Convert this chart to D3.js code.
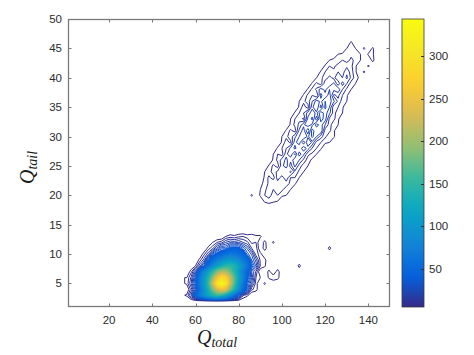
<!DOCTYPE html>
<html><head><meta charset="utf-8">
<script src="https://cdn.jsdelivr.net/npm/d3@7"></script>
<style>body{margin:0;background:#fff}svg{display:block}</style>
</head><body><svg id="c" width="474" height="355"></svg>
<script>
// ---------- data ----------
const xTicks = [20, 40, 60, 80, 100, 120, 140];
const yTicks = [5, 10, 15, 20, 25, 30, 35, 40, 45, 50];
const cbTicks = [50, 100, 150, 200, 250, 300];
const xDomain = [1, 150];
const yDomain = [1, 50];
const cDomain = [5, 344];
const levels = d3.range(5, 345, 4);

// density grids: rows of [y, xStart, values at xStart, xStart+dx, ...]
const lowerGrid = {x0: 56, dx: 2, nx: 45, y0: 2, dy: 1, ny: 13};
const lowerRows = [
  [3, 56, [6, 18, 45, 70, 95, 120, 140, 150, 140, 115, 85, 55, 33, 10, 6]],
  [4, 58, [11, 27, 60, 95, 135, 185, 230, 250, 235, 185, 135, 90, 55, 31, 10, 7]],
  [5, 56, [6, 17, 35, 70, 105, 150, 220, 300, 340, 305, 225, 160, 105, 65, 35, 20, 7, 0, 6]],
  [6, 56, [5, 14, 32, 65, 100, 140, 190, 250, 290, 275, 220, 165, 115, 75, 42, 25, 9, 5, 0, 6, 9, 7]],
  [7, 58, [8, 22, 53, 82, 115, 150, 185, 205, 205, 180, 145, 105, 72, 48, 21, 12, 0, 0, 7, 0, 8]],
  [8, 60, [5, 16, 29, 58, 85, 110, 130, 145, 150, 140, 118, 90, 62, 37, 24, 9, 6]],
  [8, 108, [7]],
  [9, 62, [7, 15, 38, 55, 72, 85, 98, 104, 100, 88, 70, 53, 29, 19, 8, 7]],
  [10, 64, [8, 16, 33, 42, 48, 60, 66, 64, 58, 49, 31, 24, 11, 7]],
  [11, 66, [7, 12, 22, 31, 30, 40, 42, 41, 32, 24, 13, 11, 0, 8]],
  [11, 122, [7]],
  [12, 68, [5, 9, 11, 17, 20, 19, 21, 17, 14, 8, 9, 0, 7, 0, 6]],
  [13, 74, [5, 7, 6, 8, 9, 7, 8, 6, 6]]
];
const upperGrid = {x0: 84, dx: 2, nx: 32, y0: 17, dy: 1, ny: 32};
const upperRows = [
  [19, 92, [6, 8, 6, 5]],
  [20, 86, [6, 0, 6, 9, 10, 8, 9, 6, 5]],
  [21, 90, [5, 8, 11, 9, 12, 10, 7, 5]],
  [22, 90, [4, 6, 10, 13, 11, 13, 11, 8, 6]],
  [23, 92, [6, 10, 7, 15, 11, 16, 9, 9, 5]],
  [24, 92, [5, 7, 11, 14, 17, 13, 18, 12, 8, 5]],
  [25, 94, [6, 10, 7, 16, 19, 11, 18, 11, 7, 5]],
  [26, 96, [6, 10, 15, 18, 14, 20, 17, 12, 7, 4]],
  [27, 96, [5, 9, 7, 16, 20, 12, 23, 18, 10, 8, 5]],
  [28, 98, [6, 9, 13, 18, 22, 18, 24, 19, 13, 9, 6]],
  [29, 100, [6, 11, 8, 20, 23, 14, 25, 20, 11, 9, 6, 5]],
  [30, 100, [5, 8, 11, 16, 21, 25, 20, 26, 21, 15, 10, 6, 6]],
  [31, 102, [6, 10, 7, 18, 23, 13, 27, 22, 25, 11, 10, 6]],
  [32, 104, [6, 10, 14, 20, 24, 20, 27, 23, 17, 11, 6, 5]],
  [33, 104, [5, 9, 12, 8, 22, 26, 14, 27, 23, 12, 10, 6]],
  [34, 106, [6, 9, 13, 19, 23, 20, 28, 23, 18, 11, 6, 5]],
  [35, 108, [6, 11, 7, 20, 25, 15, 26, 21, 10, 9, 6]],
  [36, 108, [5, 8, 11, 17, 23, 20, 25, 23, 18, 12, 7, 5]],
  [37, 110, [6, 10, 13, 9, 22, 18, 23, 12, 14, 9, 6]],
  [38, 112, [6, 10, 14, 19, 16, 21, 18, 20, 13, 8, 5]],
  [39, 114, [6, 10, 7, 16, 14, 18, 10, 19, 13, 7, 5]],
  [40, 116, [5, 8, 11, 14, 12, 16, 13, 18, 12, 7, 4]],
  [41, 118, [6, 9, 11, 10, 13, 11, 16, 11, 6, 0, 6]],
  [42, 120, [6, 9, 8, 11, 9, 12, 10, 6, 0, 0, 6]],
  [43, 122, [5, 7, 6, 9, 7, 10, 8, 6, 0, 0, 7]],
  [44, 126, [5, 6, 6, 8, 6, 6, 0, 6, 6]],
  [45, 130, [5, 6, 5, 0, 6, 0, 6]],
  [46, 132, [6]]
];
const parulaStops = ["#352a87", "#0363e1", "#1485d4", "#06a7c6", "#38b99e",
                     "#92bf73", "#d9ba56", "#fcce2e", "#f5e726", "#f9fb0e"];

// ---------- layout ----------
const svg = d3.select("#c");
const M = {l: 68, r: 390, t: 19, b: 307};
const CB = {l: 402, r: 424};
const xs = d3.scaleLinear().domain(xDomain).range([M.l, M.r]);
const ys = d3.scaleLinear().domain(yDomain).range([M.b, M.t]);
const parula = d3.scaleLinear()
  .domain(parulaStops.map((d, i) => i / (parulaStops.length - 1)))
  .range(parulaStops).interpolate(d3.interpolateRgb);
const color = v => parula((v - cDomain[0]) / (cDomain[1] - cDomain[0]));

svg.append("clipPath").attr("id", "clip").append("rect")
  .attr("x", M.l).attr("y", M.t).attr("width", M.r - M.l).attr("height", M.b - M.t);

function buildGrid(g, rows) {
  const vals = new Array(g.nx * g.ny).fill(0);
  rows.forEach(([y, xs0, arr]) => {
    const j = Math.round((y - g.y0) / g.dy);
    const i0 = Math.round((xs0 - g.x0) / g.dx);
    arr.forEach((v, k) => { vals[j * g.nx + i0 + k] = v; });
  });
  return vals;
}

function drawGrid(g, rows, fillFrom) {
  const vals = buildGrid(g, rows);
  const maxV = d3.max(vals);
  const th = levels.filter(l => l < maxV);
  const conts = d3.contours().size([g.nx, g.ny]).thresholds(th)(vals);
  const proj = d3.geoTransform({
    point: function(x, y) {
      this.stream.point(xs(g.x0 + (x - 0.5) * g.dx), ys(g.y0 + (y - 0.5) * g.dy));
    }
  });
  const path = d3.geoPath(proj);
  const gr = svg.append("g").attr("clip-path", "url(#clip)");
  gr.selectAll("path").data(conts).join("path")
    .attr("d", path)
    .attr("fill", d => d.value >= fillFrom ? color(d.value) : "none")
    .attr("stroke", d => color(d.value))
    .attr("stroke-width", 1)
    .attr("stroke-linejoin", "round");
}

drawGrid(lowerGrid, lowerRows, 37);
drawGrid(upperGrid, upperRows, Infinity);

// ---------- axes ----------
const axisCol = "#7a7a7a", textCol = "#2b2b2b";
const font = "'Liberation Sans', Arial, sans-serif";
svg.append("rect").attr("x", M.l + 0.5).attr("y", M.t + 0.5)
  .attr("width", M.r - M.l - 1).attr("height", M.b - M.t - 1)
  .attr("fill", "none").attr("stroke", axisCol).attr("stroke-width", 1.3);

const tl = 3.5;
xTicks.forEach(t => {
  const x = Math.round(xs(t)) + 0.5;
  svg.append("line").attr("x1", x).attr("x2", x).attr("y1", M.b).attr("y2", M.b - tl).attr("stroke", axisCol);
  svg.append("line").attr("x1", x).attr("x2", x).attr("y1", M.t).attr("y2", M.t + tl).attr("stroke", axisCol);
  svg.append("text").attr("x", xs(t)).attr("y", 324).attr("text-anchor", "middle")
    .attr("font-family", font).attr("font-size", 11.5).attr("fill", textCol).text(t);
});
yTicks.forEach(t => {
  const y = Math.round(ys(t)) + 0.5;
  svg.append("line").attr("x1", M.l).attr("x2", M.l + tl).attr("y1", y).attr("y2", y).attr("stroke", axisCol);
  svg.append("line").attr("x1", M.r).attr("x2", M.r - tl).attr("y1", y).attr("y2", y).attr("stroke", axisCol);
  svg.append("text").attr("x", M.l - 6).attr("y", ys(t) + 4).attr("text-anchor", "end")
    .attr("font-family", font).attr("font-size", 11.5).attr("fill", textCol).text(t);
});

// axis labels
const xl = svg.append("text").attr("x", 197).attr("y", 344)
  .attr("font-family", "'Liberation Serif', 'DejaVu Serif', serif").attr("font-style", "italic")
  .attr("fill", "#1a1a1a");
xl.append("tspan").attr("font-size", 20).text("Q");
xl.append("tspan").attr("font-size", 14).attr("dy", 3).text("total");

const yl = svg.append("text").attr("transform", "translate(34,184) rotate(-90)")
  .attr("font-family", "'Liberation Serif', 'DejaVu Serif', serif").attr("font-style", "italic")
  .attr("fill", "#1a1a1a");
yl.append("tspan").attr("font-size", 20).text("Q");
yl.append("tspan").attr("font-size", 14).attr("dy", 3).text("tail");

// ---------- colorbar ----------
const cs = d3.scaleLinear().domain(cDomain).range([M.b, M.t]);
const defs = svg.append("defs");
const grad = defs.append("linearGradient").attr("id", "cbg")
  .attr("x1", 0).attr("y1", 1).attr("x2", 0).attr("y2", 0);
d3.range(0, 1.0001, 0.05).forEach(t => {
  grad.append("stop").attr("offset", t).attr("stop-color", parula(t));
});
svg.append("rect").attr("x", CB.l).attr("y", M.t).attr("width", CB.r - CB.l).attr("height", M.b - M.t)
  .attr("fill", "url(#cbg)").attr("stroke", "#3a3a3a").attr("stroke-width", 0.8);
cbTicks.forEach(t => {
  const y = Math.round(cs(t)) + 0.5;
  svg.append("line").attr("x1", CB.r).attr("x2", CB.r - 3).attr("y1", y).attr("y2", y).attr("stroke", "#333");
  svg.append("text").attr("x", CB.r + 5).attr("y", cs(t) + 4)
    .attr("font-family", font).attr("font-size", 11.5).attr("fill", textCol).text(t);
});
</script></body></html>
